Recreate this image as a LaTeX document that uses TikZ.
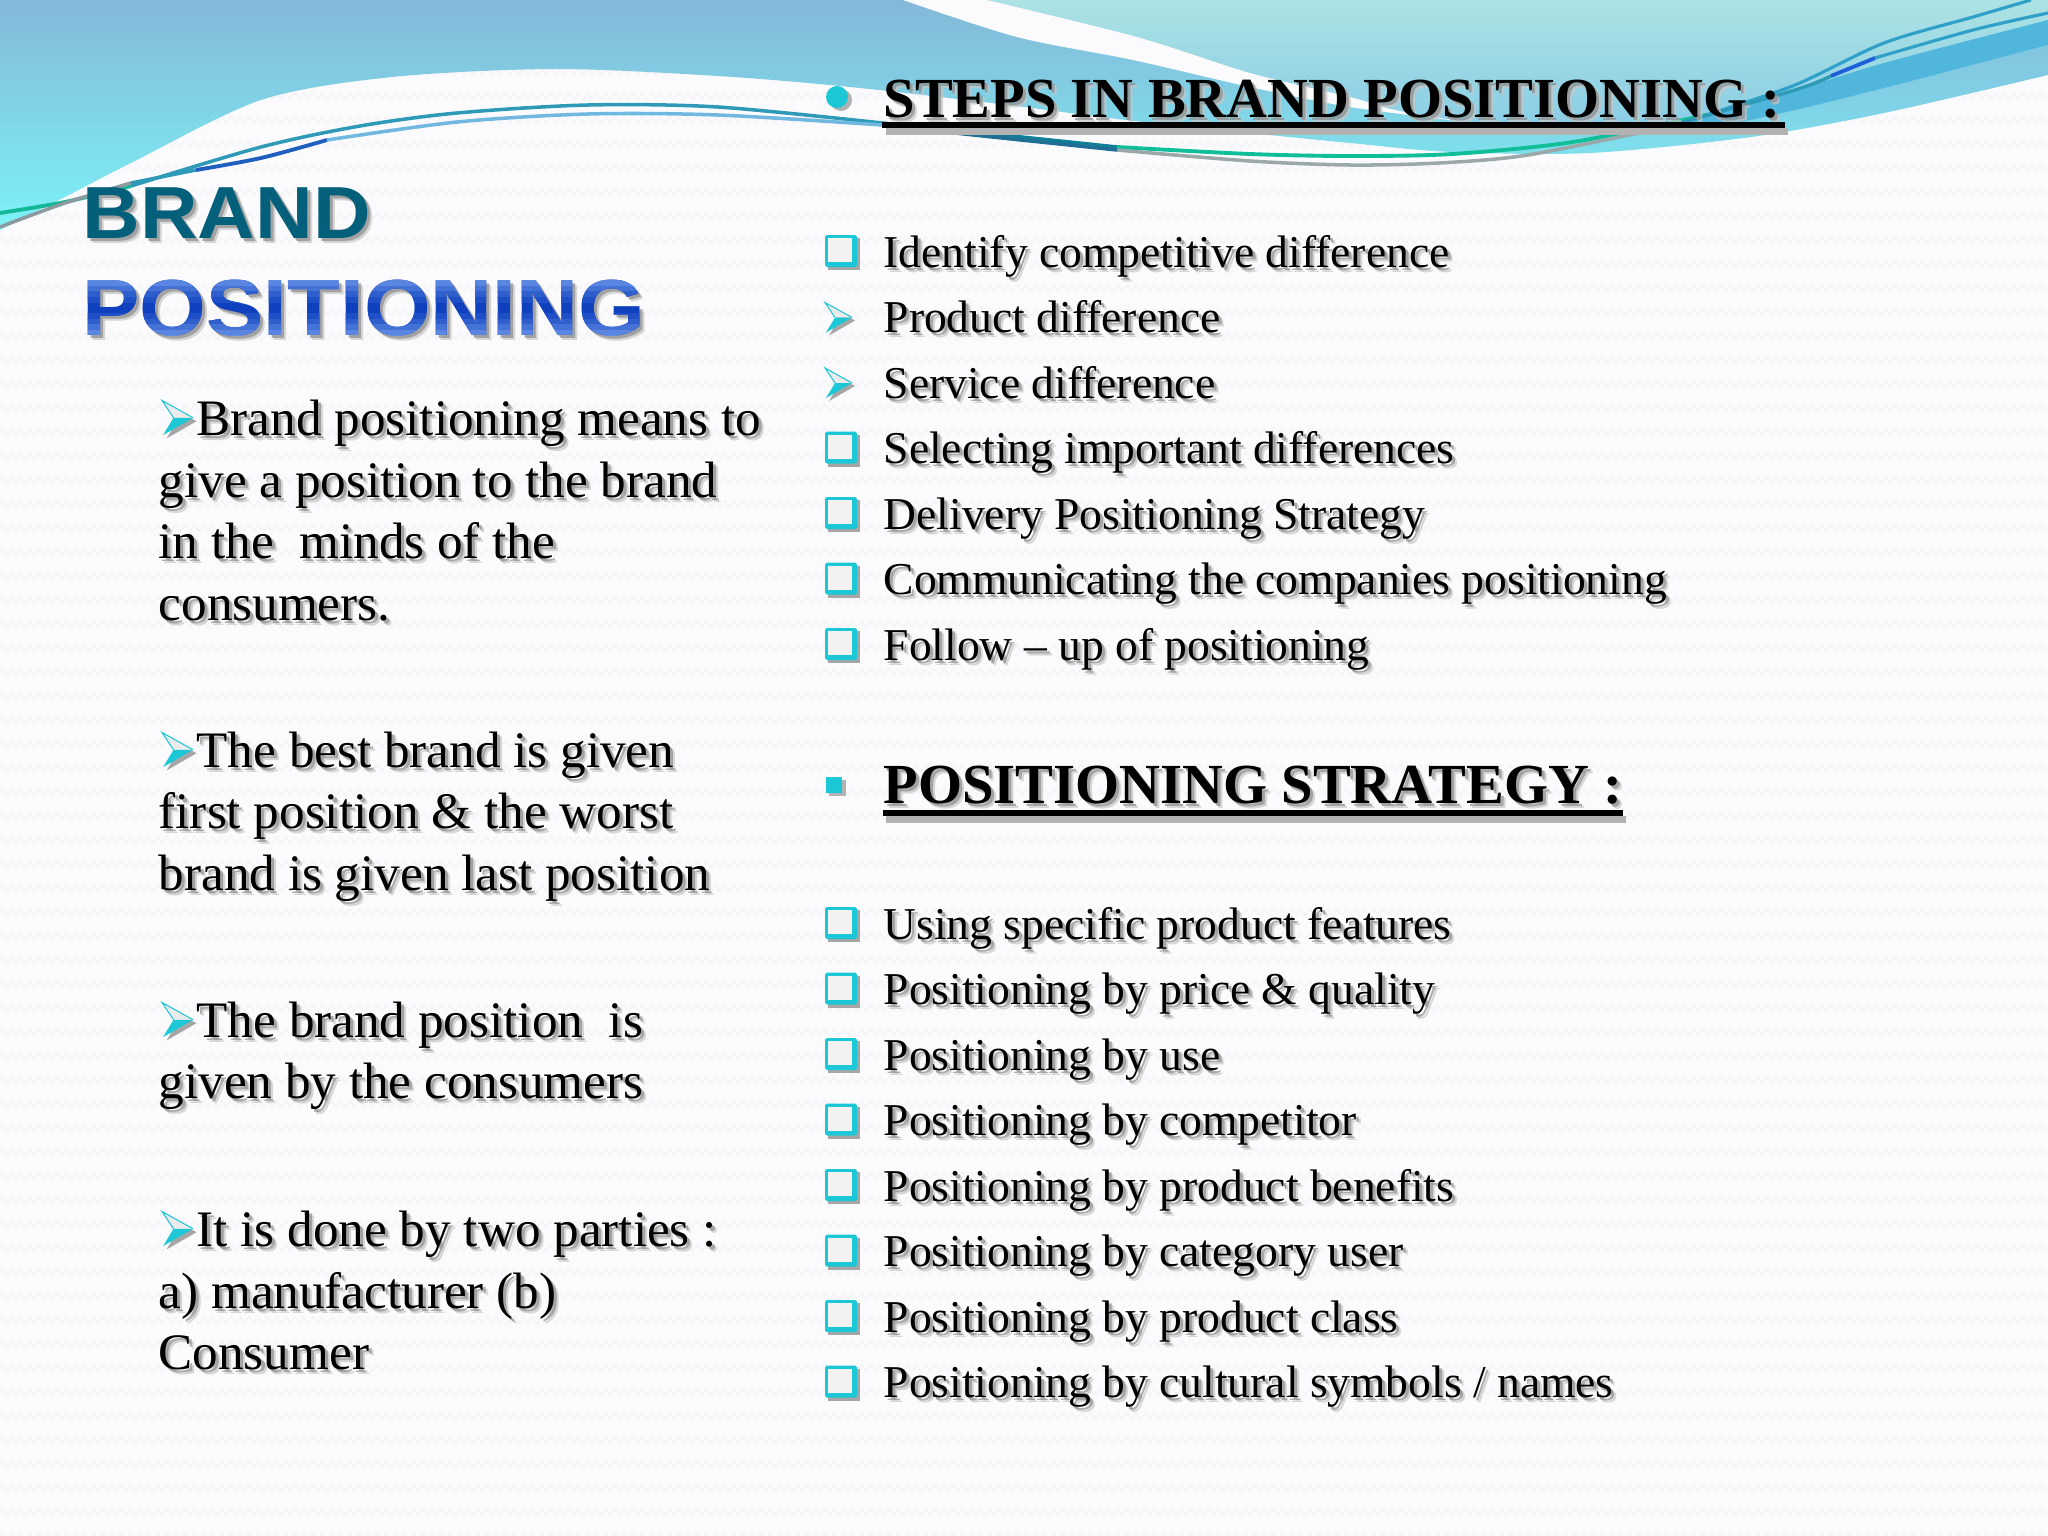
\documentclass[tikz,border=0pt]{standalone}
\usepackage{fontspec}
\setmainfont{Liberation Serif}
\newfontfamily\titlefont[FakeStretch=1.08]{Liberation Sans}
\usetikzlibrary{decorations.pathmorphing}
\definecolor{paper}{HTML}{FBFBFD}
\definecolor{zigline}{HTML}{F4F4F8}
\definecolor{bulletcyan}{HTML}{1CC7D6}
\definecolor{brandteal}{HTML}{04607A}
\definecolor{posEdge}{HTML}{7AA4F0}
\definecolor{posMid}{HTML}{0F40BE}
\definecolor{waveTop}{HTML}{84B8D8}
\definecolor{waveLow}{HTML}{7CF2F7}
\definecolor{skyTop}{HTML}{ACE2E3}
\definecolor{skyLow}{HTML}{88CCE6}
\definecolor{bandblue}{HTML}{50B6DC}
\definecolor{lineGreen}{HTML}{14B896}
\definecolor{lineTeal}{HTML}{2E9AB8}
\definecolor{lineDeep}{HTML}{0E7F96}
\definecolor{lineMint}{HTML}{10BF98}
\definecolor{lineSky}{HTML}{2FA0C8}
\definecolor{lineGray}{HTML}{8A9AA0}
\definecolor{lineBlue}{HTML}{1F5FC0}
\definecolor{linePale}{HTML}{70B8E0}
\definecolor{lineNavy}{HTML}{1F6E96}
\definecolor{lineAsh}{HTML}{9AA8AA}
\definecolor{lineRoyal}{HTML}{1E60D8}
\tikzset{
    bodytxt/.style={anchor=base west, inner sep=0pt, font=\fontsize{14.55}{17}\selectfont},
    itemtxt/.style={anchor=base west, inner sep=0pt, font=\fontsize{12.95}{15}\selectfont},
    headtxt/.style={anchor=base west, inner sep=0pt, font=\fontsize{16.1}{18}\selectfont\bfseries},
    brandtxt/.style={anchor=base west, inner sep=0pt, font=\titlefont\fontsize{21}{24}\selectfont\bfseries, text=brandteal},
    postxt/.style={anchor=base west, inner sep=0pt, font=\titlefont\fontsize{22.6}{24}\selectfont\bfseries},
    softtxt/.style={text=black!22, text opacity=0.7, xshift=0.05cm, yshift=-0.05cm},
    shadowtxt/.style={text=black!45, text opacity=0.7, xshift=0.03cm, yshift=-0.03cm},
    sqbullet/.pic={
        \fill[black!35] (3,-29) rectangle (35,3);
        \fill[bulletcyan, rounded corners=0.5pt] (0,-32) rectangle (32,0);
        \fill[black!5] (3,-29) rectangle (27,-5);
    },
    arrowbullet/.pic={
        \fill[black!35] (3,-27) -- (30,-12) -- (4,3) -- (13,-12) -- cycle;
        \fill[black!8] (0,-30) -- (27,-15) -- (10,-15) -- cycle;
        \fill[bulletcyan] (1,0) -- (27,-15) -- (10,-15) -- cycle;
        \draw[bulletcyan, line width=0.3pt] (10,-15) -- (0,-30) -- (27,-15);
    },
}
\newcommand{\shnode}[4]{%
    \node[#1, softtxt] (#2t) at (#3) {#4};
    \node[#1, shadowtxt] (#2s) at (#3) {#4};
    \node[#1] (#2) at (#3) {#4};
}
\def\noneblt{none}
\begin{document}
\begin{tikzpicture}[x=0.01cm, y=-0.01cm]
    \useasboundingbox (0,0) rectangle (2048,1536);
    \fill[paper] (0,0) rectangle (2048,1536);
    \foreach \r in {0,...,64}
        \draw[zigline, line width=0.3pt, decorate, decoration={zigzag, segment length=2.6pt, amplitude=1pt}] (0,{\r*24}) -- (2048,{\r*24});

    \shade[top color=waveTop, bottom color=waveLow]
        (0,0) -- (2048,0) -- (2048,75)
        -- plot[smooth] coordinates {(2048,75) (1884,113) (1751,137) (1590,153) (1452,152) (1350,143) (1143,122) (1000,104) (850,87) (718,76) (555,69) (392,77) (261,100) (131,163) (65,197) (0,230)}
        -- cycle;
    \shade[top color=skyTop, bottom color=skyLow]
        (987,0) -- (2048,0) -- (2048,45)
        -- plot[smooth] coordinates {(2048,45) (1884,88) (1782,113) (1690,131) (1580,130) (1466,122)}
        -- plot[smooth] coordinates {(1466,122) (1395,110) (1350,97) (1250,73) (1137,37) (987,0)}
        -- cycle;
    \fill[bandblue]
        plot[smooth] coordinates {(1500,128) (1650,128) (1773,97) (1884,63) (2048,20)}
        -- (2048,45)
        -- plot[smooth] coordinates {(2048,45) (1884,88) (1782,113) (1690,131) (1600,134) (1500,128)};
    \fill[paper]
        plot[smooth] coordinates {(987,0) (1137,37) (1250,73) (1350,97) (1395,110) (1466,122)}
        -- plot[smooth] coordinates {(1466,122) (1350,107) (1250,87) (1133,60) (1017,37) (903,0)}
        -- cycle;

    \draw[lineGreen, line width=1.1pt] plot[smooth] coordinates {(0,213) (65,202) (131,186)};
    \draw[lineTeal, line width=1pt] plot[smooth] coordinates {(131,186) (261,147) (360,126) (457,113) (588,105) (718,107) (882,123)};
    \draw[lineDeep, line width=1pt] plot[smooth] coordinates {(882,123) (983,133) (1117,147)};
    \draw[lineMint, line width=1.1pt] plot[smooth] coordinates {(1117,147) (1250,154) (1350,156) (1452,154) (1573,142) (1706,115)};
    \draw[lineSky, line width=0.9pt] plot[smooth] coordinates {(1706,115) (1795,85) (1884,43) (1973,17) (2031,0)};

    \draw[lineGray, line width=1pt] plot[smooth] coordinates {(0,227) (65,203) (131,183)};
    \draw[lineTeal, line width=1pt] plot[smooth] coordinates {(131,183) (196,170)};
    \draw[lineBlue, line width=1.1pt] plot[smooth] coordinates {(196,170) (261,158) (327,140)};
    \draw[linePale, line width=1pt] plot[smooth] coordinates {(327,140) (457,122) (588,114) (718,115) (882,125)};
    \draw[lineNavy, line width=1pt] plot[smooth] coordinates {(882,125) (983,136) (1117,150)};
    \draw[lineAsh, line width=1pt] plot[smooth] coordinates {(1117,150) (1250,161) (1350,165) (1439,163) (1528,155) (1662,128)};
    \draw[lineTeal, line width=1pt] plot[smooth] coordinates {(1662,128) (1795,90) (1831,76)};
    \draw[lineRoyal, line width=1.1pt] plot[smooth] coordinates {(1831,76) (1875,58)};
    \draw[lineSky, line width=0.9pt] plot[smooth] coordinates {(1875,58) (1973,30) (2048,13)};

    \shnode{brandtxt}{brandT}{82,238}{BRAND}
    \node[postxt, softtxt] (posTt) at (82,335) {POSITIONING};
    \node[postxt, shadowtxt] (posTs) at (82,335) {POSITIONING};
    \node[postxt, text=posMid] (posT) at (82,335) {POSITIONING};
    \foreach \k/\pct in {0/10,1/30,2/50,3/70,4/85,7/85,8/70,9/50,10/30,11/10}
    {
        \begin{scope}
            \clip (60,{275+5.5*\k}) rectangle (660,{280.5+5.5*\k});
            \node[postxt, text=posMid!\pct!posEdge] (posT\k) at (82,335) {POSITIONING};
        \end{scope}
    }

    \foreach \blt/\lx/\yy/\txt/\nm in {
        arrowbullet/196/435/Brand positioning means to/pa,
        none/158/497/give a position to the brand/pb,
        none/158/558/in the\ \ minds of the/pc,
        none/158/620/consumers./pd,
        arrowbullet/196/767/The best brand is given/pe,
        none/158/828/first position \& the worst/pf,
        none/158/890/brand is given last position/pg,
        arrowbullet/196/1037/The brand position\ \ is/ph,
        none/158/1098/given by the consumers/pi,
        arrowbullet/196/1246/It is done by two parties :/pj,
        none/158/1308/a) manufacturer (b)/pk,
        none/158/1369/Consumer/pl}
    {
        \shnode{bodytxt}{\nm}{\lx,\yy}{\txt}
        \ifx\blt\noneblt\else
            \pic[scale=1.15] at (162,\yy) {arrowbullet};
        \fi
    }

    \fill[black!30] (841,100) circle (11);
    \fill[bulletcyan] (837,97) circle (11);
    \shnode{headtxt}{stepsH}{883,117}{STEPS IN BRAND POSITIONING :}
    \fill[black!30] (886,128) rectangle (1788,135);
    \fill[black] (882,122) rectangle (1785,128);

    \foreach \blt/\txt [count=\i from 0] in {
        sqbullet/Identify competitive difference,
        arrowbullet/Product difference,
        arrowbullet/Service difference,
        sqbullet/Selecting important differences,
        sqbullet/Delivery Positioning Strategy,
        sqbullet/Communicating the companies positioning,
        sqbullet/Follow -- up of positioning}
    {
        \pgfmathsetmacro\yy{267+65.5*\i}
        \pic at (825,\yy) {\blt};
        \shnode{itemtxt}{stepI\i}{883,\yy}{\txt}
    }

    \fill[black!30] (829,780) rectangle (846,796);
    \fill[bulletcyan] (826,777) rectangle (842,793);
    \shnode{headtxt}{stratH}{883,803}{POSITIONING STRATEGY :}
    \fill[black!30] (886,816) rectangle (1626,823);
    \fill[black] (883,810) rectangle (1623,816);

    \foreach \txt [count=\i from 0] in {
        Using specific product features,
        Positioning by price \& quality,
        Positioning by use,
        Positioning by competitor,
        Positioning by product benefits,
        Positioning by category user,
        Positioning by product class,
        Positioning by cultural symbols / names}
    {
        \pgfmathsetmacro\yy{939+65.5*\i}
        \pic at (825,\yy) {sqbullet};
        \shnode{itemtxt}{stratI\i}{883,\yy}{\txt}
    }
\end{tikzpicture}
\end{document}
